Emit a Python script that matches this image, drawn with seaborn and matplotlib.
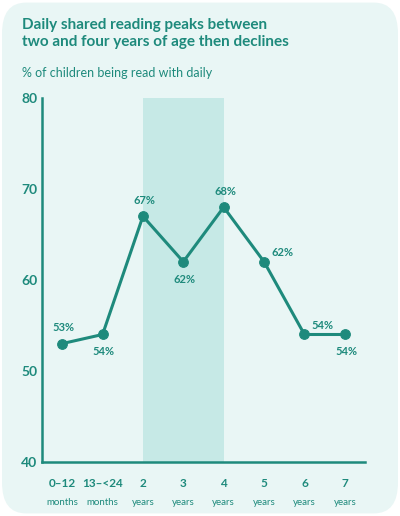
import matplotlib.pyplot as plt
import seaborn as sns
import pandas as pd
from matplotlib.patches import FancyBboxPatch

ages_top = ['0–12', '13–<24', '2', '3', '4', '5', '6', '7']
ages_bottom = ['months', 'months', 'years', 'years', 'years', 'years', 'years', 'years']
pct = [53, 54, 67, 62, 68, 62, 54, 54]
label_pos = ['above', 'below', 'above', 'below', 'above', 'right', 'right', 'below']

teal = '#1e8a7c'
bg = '#e9f6f5'
shade = '#c6e9e6'

sns.set_style('white')
plt.rcParams['font.family'] = ['Lato', 'DejaVu Sans']

fig = plt.figure(figsize=(4, 5.16), dpi=100)
fig.patch.set_facecolor('white')
fig.patches.append(FancyBboxPatch((0.005, 0.005), 0.99, 0.99, boxstyle='round,pad=0,rounding_size=0.06',
                                  transform=fig.transFigure, facecolor=bg, edgecolor='none', zorder=-1))
ax = fig.add_axes([0.105, 0.105, 0.8075, 0.705])
ax.set_facecolor('none')

df = pd.DataFrame({'x': range(len(pct)), 'pct': pct})
ax.axvspan(2, 4, color=shade, zorder=0, lw=0)
sns.lineplot(data=df, x='x', y='pct', ax=ax, color=teal, lw=2.2, marker='o',
             markersize=7, markeredgecolor=teal, zorder=3)

for i, (v, p) in enumerate(zip(pct, label_pos)):
    if p == 'above':
        ax.annotate(f'{v}%', (i, v), xytext=(1, 9), textcoords='offset points', ha='center',
                    fontsize=8, color=teal, fontweight='bold')
    elif p == 'below':
        ax.annotate(f'{v}%', (i, v), xytext=(1, -15), textcoords='offset points', ha='center',
                    fontsize=8, color=teal, fontweight='bold')
    else:
        ax.annotate(f'{v}%', (i, v), xytext=(5, 4), textcoords='offset points', ha='left',
                    fontsize=8, color=teal, fontweight='bold')

ax.set_xlim(-0.5, 7.5)
ax.set_ylim(40, 80)
ax.set_yticks([40, 50, 60, 70, 80])
ax.set_xticks([i + 0.5 for i in range(8)])
ax.set_xticklabels([])
ax.tick_params(axis='x', direction='in', length=6, width=1.5, color=teal)
ax.tick_params(axis='y', direction='in', length=6, width=1.5, color=teal, labelcolor=teal, labelsize=10)
for lbl in ax.get_yticklabels():
    lbl.set_fontweight('bold')
for s in ['top', 'right']:
    ax.spines[s].set_visible(False)
for s in ['left', 'bottom']:
    ax.spines[s].set_color(teal)
    ax.spines[s].set_linewidth(1.8)
ax.set_xlabel('')
ax.set_ylabel('')

for i, (t, b) in enumerate(zip(ages_top, ages_bottom)):
    ax.text(i, 38.2, t, ha='center', va='top', fontsize=8.5, color=teal, fontweight='bold')
    ax.text(i, 36.0, b, ha='center', va='top', fontsize=7, color=teal)

fig.text(0.055, 0.965, 'Daily shared reading peaks between\ntwo and four years of age then declines',
         ha='left', va='top', fontsize=11, fontweight='bold', color=teal, linespacing=1.3)
fig.text(0.055, 0.87, '% of children being read with daily', ha='left', va='top', fontsize=9, color=teal)

fig.savefig('out.png', dpi=100)
